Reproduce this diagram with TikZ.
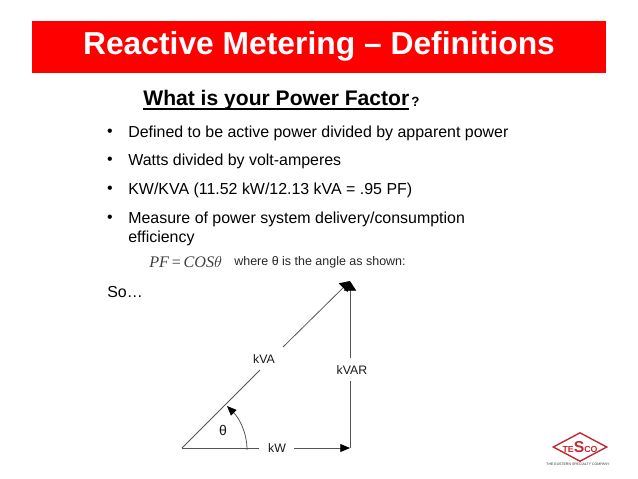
\documentclass[tikz,border=0pt]{standalone}
\usepackage{fontspec}
\usepackage{amsmath}
\setmainfont{Liberation Sans}
\newfontfamily\timesfont{Liberation Serif}
\usetikzlibrary{calc}
\usetikzlibrary{arrows.meta}
\usetikzlibrary{shapes.geometric}
\definecolor{slidered}{RGB}{255,0,0}
\definecolor{logored}{RGB}{196,40,50}
\definecolor{vectorgrey}{RGB}{85,85,85}
\tikzset{
  bodytext/.style={anchor=west, inner sep=0pt, font=\fontsize{9.07pt}{10pt}\selectfont},
  bulletmark/.style={anchor=center, inner sep=0pt, font=\fontsize{9.07pt}{10pt}\selectfont},
  vectorlabel/.style={inner sep=0pt, text=black!90, font=\fontsize{7pt}{8pt}\selectfont},
  vector/.style={vectorgrey, line width=0.45pt},
  vectortip/.style={-{Stealth[length=5.5pt,width=4.5pt,inset=0pt,color=black]}},
  apextip/.style={-{Stealth[length=5.5pt,width=7pt,inset=0pt,color=black]}},
}
\begin{document}
\begin{tikzpicture}[x=0.02cm,y=-0.02cm]
    \useasboundingbox (0,0) rectangle (638,478);
    \fill[slidered] (32,21) rectangle (606,73);
    \node (title) at (319,46) [inner sep=0pt, text=white, font=\fontsize{18.1pt}{20pt}\selectfont\bfseries] {Reactive Metering -- Definitions};
    \node (question) at (143,100) [anchor=west, inner sep=0pt, font=\fontsize{12pt}{14pt}\selectfont\bfseries] {What is your Power Factor};
    \draw[line width=0.8pt] (143,109) -- (409,109);
    \node (mark) at (411,102) [anchor=west, inner sep=0pt, font=\fontsize{7.6pt}{9pt}\selectfont\bfseries] {?};
    \node (bulleta) at (110,133) [bulletmark] {•};
    \node (linea) at (128,133) [bodytext] {Defined to be active power divided by apparent power};
    \node (bulletb) at (110,161) [bulletmark] {•};
    \node (lineb) at (128,161) [bodytext] {Watts divided by volt-amperes};
    \node (bulletc) at (110,190) [bulletmark] {•};
    \node (linec) at (128,190) [bodytext] {KW/KVA (11.52 kW/12.13 kVA = .95 PF)};
    \node (bulletd) at (110,219) [bulletmark] {•};
    \node (lined) at (128,219) [bodytext] {Measure of power system delivery/consumption};
    \node (linee) at (128,238) [bodytext] {efficiency};
    \node (formula) at (149,262) [anchor=west, inner sep=0pt, text=black!75, font=\fontsize{9.2pt}{10pt}\timesfont\itshape] {PF\,{\upshape =}\,COS$\theta$};
    \node (where) at (234,262) [anchor=west, inner sep=0pt, text=black!85, font=\fontsize{7.1pt}{8pt}\selectfont] {where θ is the angle as shown:};
    \node (so) at (107,292) [bodytext] {So…};
    \coordinate (origin) at (182,448);
    \coordinate (apex) at (350,281);
    \coordinate (corner) at (350,448);
    \node (kva) at (264,359) [vectorlabel] {kVA};
    \node (kvar) at (352,370) [vectorlabel] {kVAR};
    \node (kw) at (277,448) [vectorlabel] {kW};
    \node (theta) at (223,430) [vectorlabel, font=\fontsize{8pt}{9pt}\selectfont] {θ};
    \coordinate (gapa) at (260,370);
    \coordinate (gapb) at (283,347);
    \coordinate (gapc) at (350,358);
    \coordinate (gapd) at (350,381);
    \coordinate (gape) at (259,448);
    \coordinate (gapf) at (294,448);
    \coordinate (arcfoot) at (247,450);
    \coordinate (arctip) at (227,406);
    \draw[vector] (origin) -- (gapa);
    \draw[vector, apextip] (gapb) -- (apex);
    \draw[vector] (origin) -- (gape);
    \draw[vector, vectortip] (gapf) -- (corner);
    \draw[vector] (corner) -- (gapd);
    \draw[vector, apextip] (gapc) -- (apex);
    \draw[vector, vectortip] (arcfoot) .. controls (247,432) and (239,418) .. (arctip);
    \node (tescologo) at (580,447) [diamond, draw=logored, line width=0.8pt, aspect=1.9, minimum width=1.08cm, minimum height=0.58cm, inner sep=0pt] {};
    \node (tesconame) at (580,447) [inner sep=0pt, text=logored, font=\fontsize{5pt}{6pt}\selectfont\bfseries] {TE{\fontsize{9pt}{8pt}\selectfont S}CO};
    \node (tagline) at (578,464) [inner sep=0pt, text=black!80, font=\fontsize{2pt}{3pt}\selectfont] {THE EASTERN SPECIALTY COMPANY};
\end{tikzpicture}
\end{document}
